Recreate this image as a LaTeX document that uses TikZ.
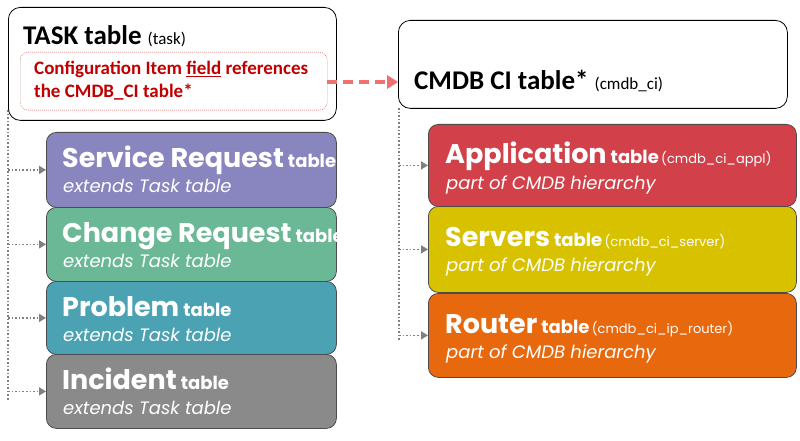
\documentclass[tikz,border=0pt]{standalone}
\usepackage{fontspec}
\setmainfont{Carlito}
\newfontfamily\gothic{Poppins}
\usetikzlibrary{arrows.meta}
\definecolor{cSR}{HTML}{8985BF}
\definecolor{cCR}{HTML}{6BB897}
\definecolor{cPR}{HTML}{4AA2B2}
\definecolor{cIN}{HTML}{8A8A8A}
\definecolor{cAP}{HTML}{D2414A}
\definecolor{cSV}{HTML}{D8C200}
\definecolor{cRT}{HTML}{E8680E}
\definecolor{cRed}{HTML}{C00000}
\definecolor{cPink}{HTML}{F07070}
\begin{document}
\begin{tikzpicture}[x=1pt,y=-1pt,
  wbox/.style={draw=black,line width=0.8pt,rounded corners=12pt,fill=white},
  cbox/.style={draw=black!70,line width=0.8pt,rounded corners=10pt,fill=#1,anchor=north west,inner sep=0pt},
  dot/.style={draw=gray,line width=1.6pt,dotted},
  arr/.style={dot,-{Triangle[length=7pt,width=8pt,fill=gray]}},
  ttl/.style={anchor=base west,text=white,inner sep=0pt},
  sub/.style={anchor=base west,text=white,inner sep=0pt,font=\gothic\fontsize{18}{20}\selectfont\itshape},
]
\useasboundingbox (0,0) rectangle (800,441);
\fill[white] (0,0) rectangle (800,441);
% left
\draw[dot] (8,110) -- (8,400);
\node[wbox,minimum width=328pt,minimum height=113pt,anchor=north west] (task) at (8,7) {};
\node[anchor=base west,inner sep=0pt,font=\fontsize{27}{29}\selectfont\bfseries] (tt) at (23,45) {TASK table \fontsize{17}{18}\selectfont\mdseries(task)};
\node[draw=cRed!70,dash pattern=on 1pt off 1pt,rounded corners=8pt,minimum width=307pt,minimum height=58pt,anchor=north west] (ci) at (20,52) {};
\node[anchor=west,text=cRed,font=\fontsize{19}{23}\selectfont\bfseries,align=left,inner sep=0pt] at (34,81) {Configuration Item \underline{field} references\\the CMDB\_CI table*};
% right
\node[wbox,minimum width=389pt,minimum height=88pt,anchor=north west] (cmdb) at (398,20) {};
\node[anchor=base west,inner sep=0pt,font=\fontsize{27}{29}\selectfont\bfseries] at (414,90) {CMDB CI table* \fontsize{17}{18}\selectfont\mdseries(cmdb\_ci)};
\draw[cPink,line width=4pt,dash pattern=on 10pt off 6pt] (ci.east|-0,82) -- (388,82);
\fill[cPink] (387,75) -- (398,82) -- (387,89) -- cycle;
\draw[dot] (399,108) -- (399,340);
% left colored
\foreach \n/\c/\y/\h/\t in {sr/cSR/132/75/{Service Request},cr/cCR/207/74/{Change Request},pr/cPR/281/73/Problem,in/cIN/354/74/Incident}{
  \node[cbox=\c,minimum width=290pt,minimum height=\h pt] (\n) at (46,\y) {};
  \node[ttl] at (62,\y+35) {{\gothic\fontsize{27}{28}\selectfont\bfseries \t}\hspace{4pt}{\gothic\fontsize{18}{20}\selectfont\bfseries table}};
  \node[sub] at (63,\y+60) {extends Task table};
}
\foreach \n in {sr,cr,pr,in}{\draw[arr] (8,0|-\n.west) -- (\n.west);}
% right colored
\foreach \n/\c/\y/\h/\t/\s in {ap/cAP/124/82/Application/cmdb\_ci\_appl,sv/cSV/206/86/Servers/cmdb\_ci\_server,rt/cRT/293/84/Router/cmdb\_ci\_ip\_router}{
  \node[cbox=\c,minimum width=368pt,minimum height=\h pt] (\n) at (428,\y) {};
  \node[ttl] at (445,\y+40) {{\gothic\fontsize{27}{28}\selectfont\bfseries \t}\hspace{4pt}{\gothic\fontsize{18}{20}\selectfont\bfseries table} {\gothic\fontsize{13}{14}\selectfont(\s)}};
  \node[sub] at (446,\y+65) {part of CMDB hierarchy};
}
\foreach \n in {ap,sv,rt}{\draw[arr] (399,0|-\n.west) -- (\n.west);}
\end{tikzpicture}
\end{document}
